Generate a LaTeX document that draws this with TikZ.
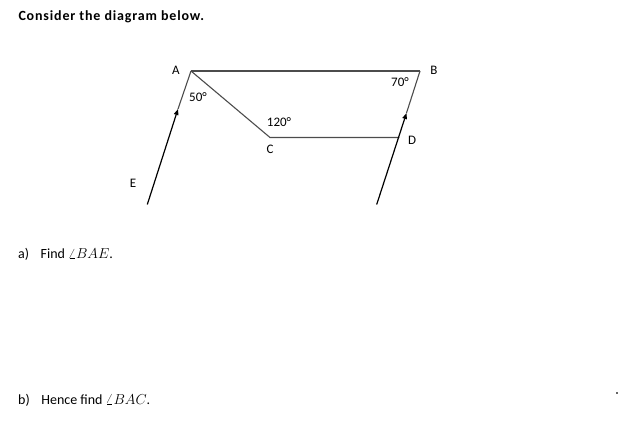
\documentclass[tikz,border=0pt]{standalone}
\usepackage{fontspec}
\setmainfont{Carlito}
\usetikzlibrary{arrows.meta}
\begin{document}
\begin{tikzpicture}[x=1pt,y=-1pt,
  seg/.style={draw=black!70, line width=1.1pt},
  arr/.style={draw=black, line width=1.2pt, -{Triangle[length=6pt,width=4.5pt]}},
  lbl/.style={inner sep=0pt, font=\fontsize{13}{15}\selectfont},
  txt/.style={inner sep=0pt, anchor=base west, font=\fontsize{14}{17}\selectfont}]
\useasboundingbox (0,0) rectangle (619,439);
\coordinate (A) at (191,71);
\coordinate (B) at (420,71);
\coordinate (C) at (270,137.5);
\coordinate (D) at (399.3,137.5);
\coordinate (E0) at (147.3,204.5);
\coordinate (EA) at (178,109);
\coordinate (F0) at (376.7,204.5);
\coordinate (FA) at (406.5,113);
% lines
\draw[seg] (A) -- (B);
\draw[seg] (A) -- (C) -- (D);
\draw[seg] (EA) -- (A);
\draw[seg] (FA) -- (B);
\draw[arr] (E0) -- (EA);
\draw[arr] (F0) -- (FA);
% labels
\node[lbl] (lA) at (176,70) {A};
\node[lbl] (lB) at (434,70) {B};
\node[lbl] (lC) at (270,149) {C};
\node[lbl] (lD) at (412,140) {D};
\node[lbl] (lE) at (133,183) {E};
\node[lbl] (a50) at (198,97) {50°};
\node[lbl] (a70) at (400,82) {70°};
\node[lbl] (a120) at (279,122) {120°};
% texts
\node[txt, font=\fontsize{14}{17}\selectfont\bfseries\addfontfeatures{LetterSpace=6}] (t0) at (18.3,20.7) {Consider the diagram below.};
\node[txt] (ta) at (18,258.3) {a)\hspace{0.6em} Find $\angle BAE$.};
\node[txt] (tb) at (18,404) {b)\hspace{0.6em} Hence find $\angle BAC$.};
\node[fill=black!60, minimum size=2pt, inner sep=0pt] (dot) at (616.7,393.3) {};
\end{tikzpicture}
\end{document}
